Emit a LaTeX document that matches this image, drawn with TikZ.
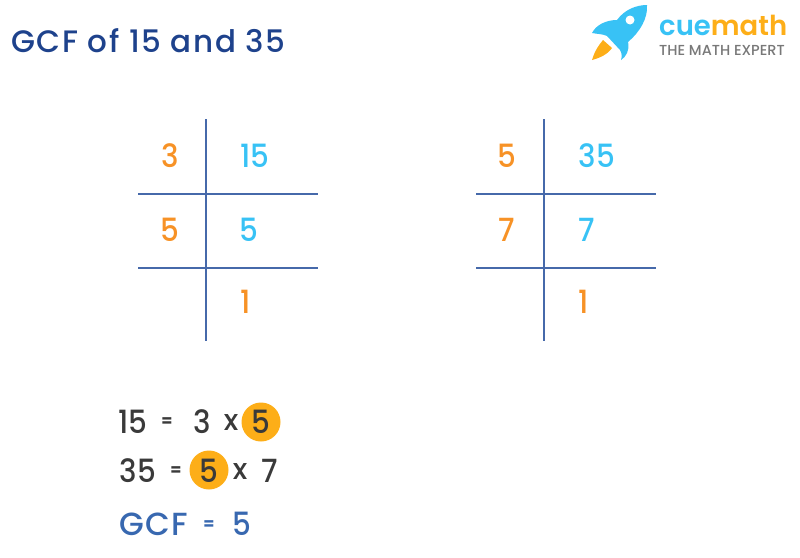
\documentclass[tikz,border=0pt]{standalone}
\usepackage{fontspec}
\setmainfont{Poppins Medium}
\newfontfamily\numfont{Poppins Medium}[FakeStretch=0.92]
\newfontfamily\wordfont{Poppins Medium}[LetterSpace=5]
\newfontfamily\logofont{Poppins SemiBold}
\newfontfamily\signfont{Poppins Bold}
\usepackage{xcolor}
\usetikzlibrary{positioning}
\definecolor{titleblue}{RGB}{30,66,140}
\definecolor{lineblue}{RGB}{70,105,170}
\definecolor{gcfblue}{RGB}{56,104,176}
\definecolor{myorange}{RGB}{247,146,38}
\definecolor{mycyan}{RGB}{56,194,245}
\definecolor{myyellow}{RGB}{253,174,24}
\definecolor{mydark}{RGB}{58,58,58}
\definecolor{mygray}{RGB}{120,120,120}
\tikzset{
  ladderline/.style={lineblue,line width=1.1pt},
  lnum/.style={font=\numfont\fontsize{32}{32}\selectfont},
  eqnum/.style={font=\numfont\fontsize{32}{32}\selectfont,text=mydark},
  eqsign/.style={font=\signfont\fontsize{16}{16}\selectfont},
  eqtimes/.style={font=\fontsize{29}{29}\selectfont},
  spot/.style={circle,fill=myyellow,minimum size=39pt,inner sep=0pt},
}
\begin{document}
\begin{tikzpicture}[x=1pt,y=-1pt]
    \useasboundingbox (0,0) rectangle (800,557);
    % title
    \node[anchor=west,inner sep=0pt,text=titleblue,font=\wordfont\fontsize{31}{31}\selectfont] (title) at (11,41) {GCF of 15 and 35};
    % rocket
    \fill[mycyan] (647,5) .. controls (637,5) and (625,9) .. (617,20)
      .. controls (606,20) and (596,25) .. (592,33) .. controls (597,34) and (603,34) .. (607,36)
      -- (620,50) .. controls (622,53) and (622,57) .. (621,60)
      .. controls (626,57) and (630,50) .. (628,42)
      .. controls (640,32) and (648,18) .. (647,5) -- cycle;
    \fill[white] (630,20) circle (4.5);
    \fill[myyellow] (592,60) .. controls (595,50) and (599,45) .. (603,40) -- (612,48)
      .. controls (608,54) and (600,58) .. (592,60) -- cycle;
    % logo text
    \node[anchor=west,inner sep=0pt,font=\logofont\fontsize{27.5}{27.5}\selectfont] (logo) at (659,25) {\textcolor{mycyan}{cue}\textcolor{myyellow}{math}};
    \node[anchor=west,inner sep=0pt,text=mygray,font=\fontsize{14.5}{14.5}\selectfont] (slogan) at (659,50) {THE MATH EXPERT};
    % ladders
    \foreach \x in {0,338} {
      \draw[ladderline] (206+\x,119) -- (206+\x,341);
      \draw[ladderline] (138+\x,194) -- (318+\x,194);
      \draw[ladderline] (138+\x,268) -- (318+\x,268);
    }
    \node[lnum,text=myorange] (a1) at (170,156) {3};
    \node[lnum,text=mycyan] (a2) at (255,156) {15};
    \node[lnum,text=myorange] (a3) at (170,230) {5};
    \node[lnum,text=mycyan] (a4) at (249,230) {5};
    \node[lnum,text=myorange] (a5) at (246,302) {1};
    \node[lnum,text=myorange] (b1) at (507,156) {5};
    \node[lnum,text=mycyan] (b2) at (597,156) {35};
    \node[lnum,text=myorange] (b3) at (507,230) {7};
    \node[lnum,text=mycyan] (b4) at (587,230) {7};
    \node[lnum,text=myorange] (b5) at (584,302) {1};
    % working
    \node[spot] (s1) at (261,422) {};
    \node[spot] (s2) at (209,470) {};
    \node[eqnum] (e1) at (133,422) {15};
    \node[eqnum,eqsign] (e2) at (167,422) {=};
    \node[eqnum] (e3) at (202,422) {3};
    \node[eqnum,eqtimes] (e4) at (231,423) {x};
    \node[eqnum] (e5) at (261,422) {5};
    \node[eqnum] (f1) at (138,471) {35};
    \node[eqnum,eqsign] (f2) at (176,471) {=};
    \node[eqnum] (f3) at (209,471) {5};
    \node[eqnum,eqtimes] (f4) at (240,472) {x};
    \node[eqnum] (f5) at (270,471) {7};
    \node[anchor=west,inner sep=0pt,text=gcfblue,font=\wordfont\fontsize{32}{32}\selectfont] (g1) at (119,524) {GCF};
    \node[eqnum,eqsign,text=gcfblue] (g2) at (209,525) {=};
    \node[eqnum,text=gcfblue] (g3) at (242,524) {5};
  \end{tikzpicture}
\end{document}
